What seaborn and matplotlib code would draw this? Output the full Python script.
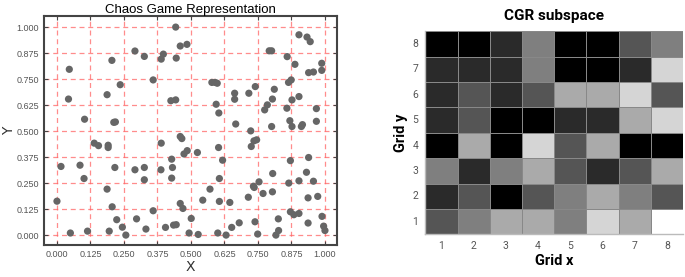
import numpy as np
import pandas as pd
import matplotlib
matplotlib.use("Agg")
import matplotlib.pyplot as plt
import seaborn as sns

# scatter points
x_vals = [0.443, 0.460, 0.485, 0.445, 0.397, 0.389, 0.291, 0.326, 0.205, 0.046,
          0.359, 0.236, 0.043, 0.187, 0.425, 0.443, 0.103, 0.212, 0.218, 0.139,
          0.155, 0.191, 0.191, 0.389, 0.460, 0.466, 0.474, 0.486, 0.524, 0.015,
          0.086, 0.101, 0.216, 0.291, 0.326, 0.326, 0.388, 0.428, 0.431, 0.428,
          0.187, 0.000, 0.206, 0.223, 0.244, 0.257, 0.050, 0.114, 0.195, 0.297,
          0.332, 0.359, 0.405, 0.435, 0.445, 0.460, 0.470, 0.493, 0.501, 0.527,
          0.544, 0.571, 0.606, 0.606, 0.618, 0.603, 0.645, 0.600, 0.631, 0.652,
          0.680, 0.714, 0.733, 0.736, 0.754, 0.769, 0.739, 0.749, 0.804, 0.805,
          0.826, 0.827, 0.817, 0.871, 0.865, 0.871, 0.884, 0.903, 0.903, 0.931,
          0.939, 0.957, 0.937, 0.973, 0.937, 0.989, 0.995, 1.000, 0.578, 0.590,
          0.598, 0.594, 0.604, 0.663, 0.663, 0.667, 0.716, 0.740, 0.723, 0.725,
          0.735, 0.745, 0.775, 0.785, 0.792, 0.801, 0.811, 0.804, 0.801, 0.858,
          0.859, 0.864, 0.874, 0.877, 0.869, 0.877, 0.888, 0.903, 0.903, 0.912,
          0.916, 0.933, 0.945, 0.939, 0.957, 0.968, 0.968, 0.988, 0.988]
y_vals = [1.000, 0.909, 0.917, 0.851, 0.870, 0.846, 0.885, 0.859, 0.840, 0.797,
          0.746, 0.723, 0.654, 0.675, 0.646, 0.650, 0.557, 0.542, 0.544, 0.442,
          0.430, 0.432, 0.421, 0.442, 0.474, 0.464, 0.390, 0.406, 0.397, 0.330,
          0.336, 0.272, 0.325, 0.314, 0.325, 0.266, 0.314, 0.365, 0.325, 0.274,
          0.221, 0.163, 0.136, 0.074, 0.038, 0.000, 0.010, 0.019, 0.019, 0.078,
          0.029, 0.117, 0.037, 0.048, 0.050, 0.152, 0.128, 0.010, 0.080, 0.003,
          0.168, 0.221, 0.162, 0.272, 0.360, 0.421, 0.157, 0.010, 0.000, 0.037,
          0.059, 0.182, 0.235, 0.229, 0.256, 0.200, 0.064, 0.005, 0.208, 0.296,
          0.078, 0.022, 0.000, 0.358, 0.250, 0.112, 0.098, 0.104, 0.261, 0.302,
          0.373, 0.259, 0.179, 0.186, 0.058, 0.090, 0.043, 0.022, 0.734, 0.734,
          0.730, 0.629, 0.587, 0.682, 0.653, 0.534, 0.682, 0.714, 0.501, 0.426,
          0.453, 0.458, 0.602, 0.626, 0.886, 0.886, 0.701, 0.654, 0.522, 0.610,
          0.858, 0.734, 0.746, 0.650, 0.550, 0.522, 0.821, 0.963, 0.666, 0.522,
          0.531, 0.952, 0.930, 0.781, 0.784, 0.608, 0.547, 0.826, 0.792]

# grey level per subspace cell (0 = white, 6 = black), rows from y=8 down to y=1
grid_x_labels = [1, 2, 3, 4, 5, 6, 7, 8]
grid_y_labels = [8, 7, 6, 5, 4, 3, 2, 1]
cell_levels = [
    [6, 6, 5, 3, 6, 6, 4, 3],
    [5, 5, 5, 3, 6, 6, 5, 1],
    [5, 4, 5, 4, 2, 2, 1, 4],
    [5, 4, 6, 6, 5, 5, 2, 1],
    [6, 2, 6, 1, 4, 2, 6, 6],
    [3, 5, 3, 2, 4, 5, 4, 2],
    [5, 4, 6, 4, 3, 2, 3, 4],
    [4, 3, 2, 2, 3, 1, 2, 0],
]

ticks = [0, 0.125, 0.25, 0.375, 0.5, 0.625, 0.75, 0.875, 1.0]

fig = plt.figure(figsize=(6.85, 2.77), dpi=100)

# left panel: scatter
ax1 = fig.add_axes([0.064, 0.116, 0.428, 0.826])
sns.scatterplot(x=x_vals, y=y_vals, ax=ax1, color="#666666", s=27,
                edgecolor="none", zorder=3)
ax1.set_xlim(-0.049, 1.045)
ax1.set_ylim(-0.047, 1.053)
ax1.set_xticks(ticks)
ax1.set_yticks(ticks)
ax1.set_xticklabels([f"{t:.3f}" for t in ticks])
ax1.set_yticklabels([f"{t:.3f}" for t in ticks])
ax1.grid(True, color="#ff6666", linestyle=(0, (4, 3)), linewidth=0.9, alpha=0.75, zorder=1)
ax1.set_axisbelow(True)
ax1.tick_params(direction="in", length=3, top=True, right=True,
                labelsize=6.5, labelcolor="#555555", color="#444444")
for sp in ax1.spines.values():
    sp.set_color("#444444")
    sp.set_linewidth(1.5)
ax1.set_title("Chaos Game Representation", fontsize=9.5, pad=2,
              family="Liberation Sans")
ax1.set_xlabel("X", fontsize=10, labelpad=1, color="#333333")
ax1.set_ylabel("Y", fontsize=10, labelpad=0, color="#333333")
for lab in ax1.get_xticklabels() + ax1.get_yticklabels():
    lab.set_family("Liberation Sans")

# right panel: heatmap of subspace
df = pd.DataFrame(cell_levels, index=grid_y_labels, columns=grid_x_labels)
ax2 = fig.add_axes([0.621, 0.154, 0.376, 0.733])
sns.heatmap(df, ax=ax2, cmap="gray_r", vmin=0, vmax=6, cbar=False,
            linewidths=0.5, linecolor="#888888")
ax2.set_title("CGR subspace", fontsize=11, fontweight="bold", pad=8,
              family="Roboto")
ax2.set_xlabel("Grid x", fontsize=10.5, fontweight="bold", family="Roboto", labelpad=2)
ax2.set_ylabel("Grid y", fontsize=10.5, fontweight="bold", family="Roboto", labelpad=3)
ax2.tick_params(length=0, labelsize=7.5, labelcolor="#555555", pad=5)
ax2.set_yticklabels(grid_y_labels, rotation=0)
for lab in ax2.get_xticklabels() + ax2.get_yticklabels():
    lab.set_family("Roboto")
for sp in ["bottom", "left"]:
    ax2.spines[sp].set_visible(True)
    ax2.spines[sp].set_color("#bbbbbb")
    ax2.spines[sp].set_linewidth(1)

fig.savefig("out.png", dpi=100)
